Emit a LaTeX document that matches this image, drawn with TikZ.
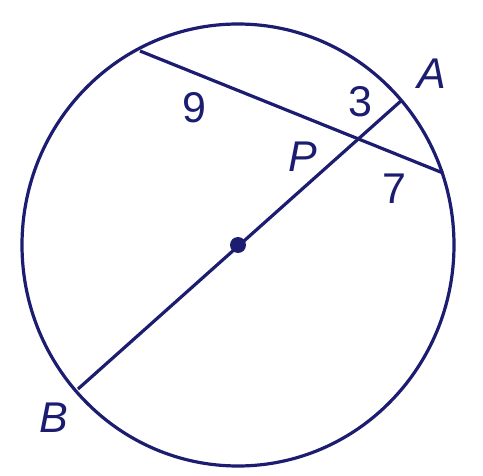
\documentclass[tikz,border=0pt]{standalone}
\usepackage{fontspec}
\setmainfont{Liberation Sans}
\definecolor{navy}{RGB}{28,28,112}
\begin{document}
\begin{tikzpicture}[x=1pt,y=-1pt,
  geo/.style={draw=navy,line width=3.2pt},
  lbl/.style={text=navy,font=\fontsize{43}{43}\selectfont,inner sep=0pt}]
\useasboundingbox (0,0) rectangle (483,476);
\coordinate (O) at (238,245);
\draw[geo] (O) ellipse [x radius=216, y radius=221];
\coordinate (C1) at (140,51);
\coordinate (C2) at (443,173);
\coordinate (A) at (402,100);
\coordinate (B) at (78,389);
\draw[geo] (C1) -- (C2);
\draw[geo] (A) -- (B);
\fill[navy] (O) circle (8);
\node[lbl] (lA) at (432,74) {\itshape A};
\node[lbl] (lB) at (54,418) {\itshape B};
\node[lbl] (lP) at (303,157) {\itshape P};
\node[lbl] (l3) at (360,102) {3};
\node[lbl] (l9) at (194,108) {9};
\node[lbl] (l7) at (394,189) {7};
\end{tikzpicture}
\end{document}
